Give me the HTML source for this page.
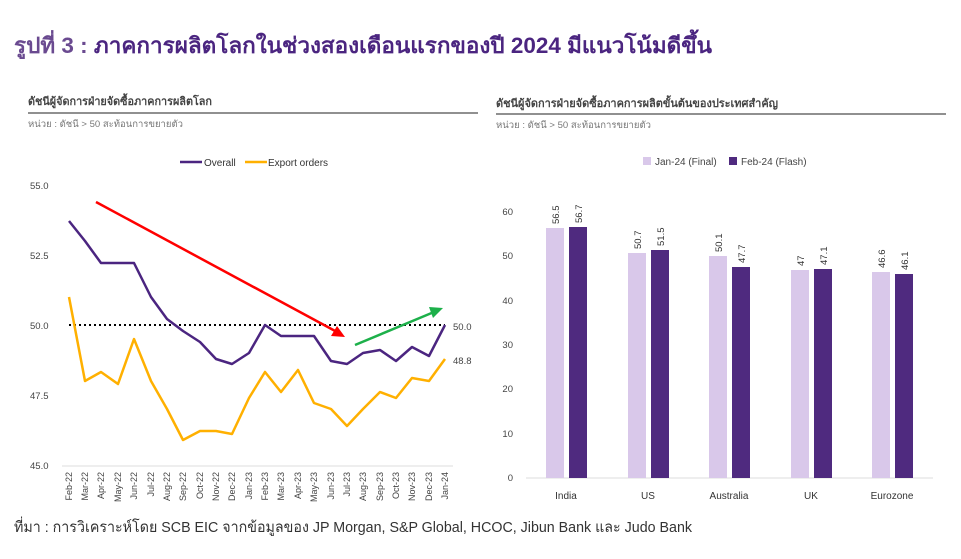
<!DOCTYPE html>
<html><head><meta charset="utf-8"><style>
html,body{margin:0;padding:0;background:#fff;}
svg{display:block;font-family:"Liberation Sans","DejaVu Sans",sans-serif;}
</style></head><body>
<svg width="961" height="559" viewBox="0 0 961 559" xmlns="http://www.w3.org/2000/svg">
<text x="14" y="53" font-size="22" font-weight="bold" fill="#4b2580" textLength="698" lengthAdjust="spacingAndGlyphs"><tspan fill="#6a4a90">รูปที่ 3 :</tspan> ภาคการผลิตโลกในช่วงสองเดือนแรกของปี 2024 มีแนวโน้มดีขึ้น</text>

<!-- left chart -->
<text x="28" y="105" font-size="11" font-weight="bold" fill="#444" textLength="184" lengthAdjust="spacingAndGlyphs">ดัชนีผู้จัดการฝ่ายจัดซื้อภาคการผลิตโลก</text>
<line x1="28" y1="113" x2="478" y2="113" stroke="#222" stroke-width="1"/>
<text x="28" y="127" font-size="9.5" fill="#777" textLength="155" lengthAdjust="spacingAndGlyphs">หน่วย : ดัชนี &gt; 50 สะท้อนการขยายตัว</text>
<line x1="180" y1="162" x2="202" y2="162" stroke="#4b2580" stroke-width="2.5"/>
<text x="204" y="166" font-size="10" fill="#333">Overall</text>
<line x1="245" y1="162" x2="267" y2="162" stroke="#ffb000" stroke-width="2.5"/>
<text x="268" y="166" font-size="10" fill="#333">Export orders</text>
<g font-size="9.5" fill="#444">
<text x="30" y="189">55.0</text><text x="30" y="259">52.5</text><text x="30" y="329">50.0</text><text x="30" y="399">47.5</text><text x="30" y="469">45.0</text>
</g>
<line x1="62" y1="466" x2="453" y2="466" stroke="#ddd" stroke-width="1"/>
<line x1="69" y1="325" x2="445" y2="325" stroke="#000" stroke-width="2" stroke-dasharray="2,3"/>
<polyline fill="none" stroke="#ffb000" stroke-width="2.5" stroke-linejoin="round" points="69,297 85,381 101,372 118,384 134,339 151,381 167,409 183,440 200,431 216,431 232,434 249,398 265,372 281,392 298,370 314,403 331,409 347,426 363,409 380,392 396,398 412,378 429,381 445,359"/>
<polyline fill="none" stroke="#4b2580" stroke-width="2.5" stroke-linejoin="round" points="69,221 85,241 101,263 118,263 134,263 151,297 167,319 183,331 200,342 216,359 232,364 249,353 265,325 281,336 298,336 314,336 331,361 347,364 363,353 380,350 396,361 412,347 429,356 445,325"/>
<line x1="96" y1="202" x2="337" y2="332" stroke="#f00" stroke-width="2.5"/>
<polygon points="345,337 331,336 337,326" fill="#f00"/>
<line x1="355" y1="345" x2="434" y2="312" stroke="#1db04a" stroke-width="2.5"/>
<polygon points="443,308 433,318 429,307" fill="#1db04a"/>
<text x="453" y="330" font-size="9.5" fill="#444">50.0</text>
<text x="453" y="364" font-size="9.5" fill="#444">48.8</text>
<g font-size="9" fill="#444" text-anchor="end">
<text transform="translate(72,472) rotate(-90)">Feb-22</text>
<text transform="translate(88,472) rotate(-90)">Mar-22</text>
<text transform="translate(104,472) rotate(-90)">Apr-22</text>
<text transform="translate(121,472) rotate(-90)">May-22</text>
<text transform="translate(137,472) rotate(-90)">Jun-22</text>
<text transform="translate(154,472) rotate(-90)">Jul-22</text>
<text transform="translate(170,472) rotate(-90)">Aug-22</text>
<text transform="translate(186,472) rotate(-90)">Sep-22</text>
<text transform="translate(203,472) rotate(-90)">Oct-22</text>
<text transform="translate(219,472) rotate(-90)">Nov-22</text>
<text transform="translate(235,472) rotate(-90)">Dec-22</text>
<text transform="translate(252,472) rotate(-90)">Jan-23</text>
<text transform="translate(268,472) rotate(-90)">Feb-23</text>
<text transform="translate(284,472) rotate(-90)">Mar-23</text>
<text transform="translate(301,472) rotate(-90)">Apr-23</text>
<text transform="translate(317,472) rotate(-90)">May-23</text>
<text transform="translate(334,472) rotate(-90)">Jun-23</text>
<text transform="translate(350,472) rotate(-90)">Jul-23</text>
<text transform="translate(366,472) rotate(-90)">Aug-23</text>
<text transform="translate(383,472) rotate(-90)">Sep-23</text>
<text transform="translate(399,472) rotate(-90)">Oct-23</text>
<text transform="translate(415,472) rotate(-90)">Nov-23</text>
<text transform="translate(432,472) rotate(-90)">Dec-23</text>
<text transform="translate(448,472) rotate(-90)">Jan-24</text>
</g>

<!-- right chart -->
<text x="496" y="107" font-size="11" font-weight="bold" fill="#444" textLength="282" lengthAdjust="spacingAndGlyphs">ดัชนีผู้จัดการฝ่ายจัดซื้อภาคการผลิตขั้นต้นของประเทศสำคัญ</text>
<line x1="496" y1="114" x2="946" y2="114" stroke="#222" stroke-width="1"/>
<text x="496" y="128" font-size="9.5" fill="#777" textLength="155" lengthAdjust="spacingAndGlyphs">หน่วย : ดัชนี &gt; 50 สะท้อนการขยายตัว</text>
<rect x="643" y="157" width="8" height="8" fill="#d9c8ea"/>
<text x="655" y="165" font-size="10" fill="#444">Jan-24 (Final)</text>
<rect x="729" y="157" width="8" height="8" fill="#4f2a7f"/>
<text x="741" y="165" font-size="10" fill="#444">Feb-24 (Flash)</text>
<g font-size="9.5" fill="#444" text-anchor="end">
<text x="513" y="215">60</text><text x="513" y="259">50</text><text x="513" y="304">40</text><text x="513" y="348">30</text><text x="513" y="392">20</text><text x="513" y="437">10</text><text x="513" y="481">0</text>
</g>
<line x1="526" y1="478" x2="933" y2="478" stroke="#ddd" stroke-width="1"/>
<g fill="#d9c8ea">
<rect x="546" y="228" width="18" height="250"/>
<rect x="628" y="253" width="18" height="225"/>
<rect x="709" y="256" width="18" height="222"/>
<rect x="791" y="270" width="18" height="208"/>
<rect x="872" y="272" width="18" height="206"/>
</g>
<g fill="#4f2a7f">
<rect x="569" y="227" width="18" height="251"/>
<rect x="651" y="250" width="18" height="228"/>
<rect x="732" y="267" width="18" height="211"/>
<rect x="814" y="269" width="18" height="209"/>
<rect x="895" y="274" width="18" height="204"/>
</g>
<g font-size="9.5" fill="#333">
<text transform="translate(559,224) rotate(-90)">56.5</text>
<text transform="translate(582,223) rotate(-90)">56.7</text>
<text transform="translate(641,249) rotate(-90)">50.7</text>
<text transform="translate(664,246) rotate(-90)">51.5</text>
<text transform="translate(722,252) rotate(-90)">50.1</text>
<text transform="translate(745,263) rotate(-90)">47.7</text>
<text transform="translate(804,266) rotate(-90)">47</text>
<text transform="translate(827,265) rotate(-90)">47.1</text>
<text transform="translate(885,268) rotate(-90)">46.6</text>
<text transform="translate(908,270) rotate(-90)">46.1</text>
</g>
<g font-size="10" fill="#333" text-anchor="middle">
<text x="566" y="499">India</text><text x="648" y="499">US</text><text x="729" y="499">Australia</text><text x="811" y="499">UK</text><text x="892" y="499">Eurozone</text>
</g>

<text x="14" y="532" font-size="15" fill="#333" textLength="678" lengthAdjust="spacingAndGlyphs">ที่มา : การวิเคราะห์โดย SCB EIC จากข้อมูลของ JP Morgan, S&amp;P Global, HCOC, Jibun Bank และ Judo Bank</text>
</svg>
</body></html>
